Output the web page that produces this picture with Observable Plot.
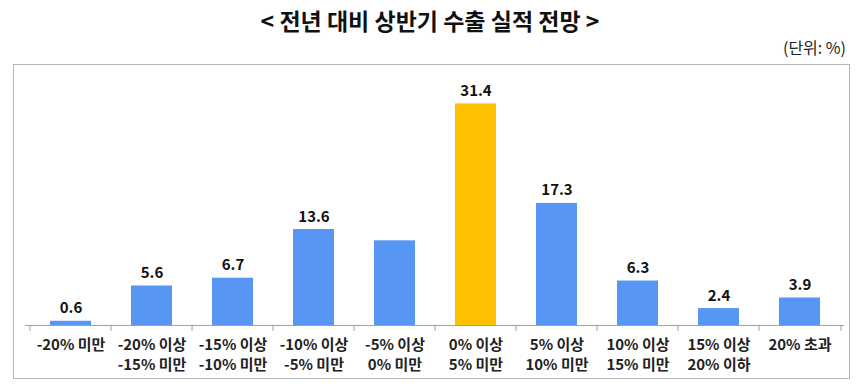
<!DOCTYPE html>
<html>
<head>
<meta charset="utf-8">
<script src="https://cdn.jsdelivr.net/npm/d3@7"></script>
<script src="https://cdn.jsdelivr.net/npm/@observablehq/plot@0.6"></script>
<style>
  body { margin: 0; background: #fff; font-family: "Noto Sans CJK KR", "Noto Sans", sans-serif; }
  #wrap { position: relative; width: 860px; height: 388px; }
  #title { position: absolute; left: 0; top: 5px; width: 860px; text-align: center; font-size: 23px; font-weight: bold; color: #111; line-height: 30px; }
  #unit { position: absolute; right: 14px; top: 36px; font-size: 16px; color: #222; line-height: 22px; }
  #frame { position: absolute; left: 13px; top: 64px; width: 835px; height: 313px; border: 1.5px solid #b5b5b5; }
  #frame svg { display: block; }
</style>
</head>
<body>
<div id="wrap">
  <div id="title">&lt; 전년 대비 상반기 수출 실적 전망 &gt;</div>
  <div id="unit">(단위: %)</div>
  <div id="frame"></div>
</div>
<script>
const categories = [
  "-20% 미만",
  "-20% 이상\n-15% 미만",
  "-15% 이상\n-10% 미만",
  "-10% 이상\n-5% 미만",
  "-5% 이상\n0% 미만",
  "0% 이상\n5% 미만",
  "5% 이상\n10% 미만",
  "10% 이상\n15% 미만",
  "15% 이상\n20% 이하",
  "20% 초과"
];
const values = [0.6, 5.6, 6.7, 13.6, 12.0, 31.4, 17.3, 6.3, 2.4, 3.9];
const valueLabels = ["0.6", "5.6", "6.7", "13.6", "", "31.4", "17.3", "6.3", "2.4", "3.9"];
const highlight = "0% 이상\n5% 미만";

const data = categories.map((c, i) => ({cat: c, value: values[i], label: valueLabels[i]}));

const W = 835, H = 313, mL = 11, mR = 5, mT = 13, mB = 53;
const step = (W - mL - mR) / categories.length;

const plot = Plot.plot({
  width: W,
  height: H,
  marginLeft: mL,
  marginRight: mR,
  marginTop: mT,
  marginBottom: mB,
  style: {fontFamily: '"Noto Sans CJK KR", "Noto Sans", sans-serif', background: "transparent"},
  x: {domain: categories, paddingInner: 0.5, paddingOuter: 0.25, label: null},
  y: {domain: [0, 35], axis: null},
  marks: [
    Plot.barY(data, {x: "cat", y: "value", fill: d => d.cat === highlight ? "#FFC000" : "#5796F4"}),
    Plot.ruleY([0], {stroke: "#a0a0a0", strokeWidth: 1}),
    Plot.ruleX(categories, {x: d => d, y1: 0, y2: 0, insetBottom: -6, dx: -step / 2, stroke: "#a0a0a0"}),
    Plot.ruleX([categories[categories.length - 1]], {x: d => d, y1: 0, y2: 0, insetBottom: -6, dx: step / 2, stroke: "#a0a0a0"}),
    Plot.text(data, {x: "cat", y: "value", text: "label", lineAnchor: "bottom", dy: -8, fontSize: 15, fontWeight: "bold", fill: "#111"}),
    Plot.axisX({tickSize: 0, tickPadding: 10, fontSize: 15, fontWeight: "bold", lineHeight: 1.34, fill: "#222", label: null})
  ]
});
document.getElementById("frame").appendChild(plot);
</script>
</body>
</html>
